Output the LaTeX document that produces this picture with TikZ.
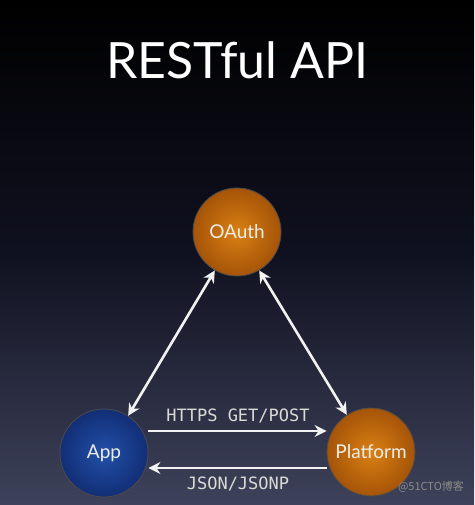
\documentclass[tikz,border=0pt]{standalone}
\usepackage{fontspec}
\setmainfont{Lato}
\setmonofont{DejaVu Sans Mono}
\newfontfamily\cjkfont{Noto Sans CJK SC}
\usetikzlibrary{arrows.meta}
\definecolor{bgtop}{RGB}{0,0,0}
\definecolor{bgmid}{RGB}{16,17,32}
\definecolor{bgbot}{RGB}{62,66,90}
\definecolor{orin}{RGB}{218,128,20}
\definecolor{orout}{RGB}{165,84,8}
\definecolor{blin}{RGB}{34,80,168}
\definecolor{blout}{RGB}{18,46,118}
\definecolor{txt}{RGB}{238,238,232}
\tikzset{
  ball/.style={circle, minimum size=88pt, inner sep=0pt, draw=black!70, line width=0.8pt, text=txt, font=\fontsize{19}{22}\selectfont},
  orangeball/.style={ball, inner color=orin, outer color=orout},
  blueball/.style={ball, inner color=blin, outer color=blout},
  link/.style={draw=white!95!black, line width=2.6pt, -{Stealth[length=12pt,width=12pt]}},
  biglink/.style={draw=white!95!black, line width=2.6pt, {Stealth[length=12pt,width=12pt]}-{Stealth[length=12pt,width=12pt]}},
  lbl/.style={text=txt!92!black, font=\ttfamily\fontsize{17}{20}\selectfont, inner sep=0pt}
}
\begin{document}
\begin{tikzpicture}[x=1pt,y=-1pt]
\shade[top color=bgtop, bottom color=bgbot, middle color=bgmid] (0,0) rectangle (474,505);
\useasboundingbox (0,0) rectangle (474,505);
\node[text=white, font=\fontsize{50}{56}\selectfont, inner sep=0pt] (title) at (237,60) {RESTful API};
\node[orangeball] (oauth) at (237,232) {OAuth};
\node[blueball] (app) at (104,453) {App};
\node[orangeball] (plat) at (371,452) {Platform};
\draw[biglink] (oauth.240) -- (app.57);
\draw[biglink] (oauth.300) -- (plat.123);
\draw[link] ([yshift=22pt]app.east) -- ([yshift=22pt]app.east -| plat.west);
\draw[link] ([yshift=-16pt]plat.west) -- ([yshift=-16pt]plat.west -| app.east);
\node[lbl] (req) at (238,416) {HTTPS GET/POST};
\node[lbl] (resp) at (238,484) {JSON/JSONP};
\node[text=white!55!black, font=\cjkfont\fontsize{11}{13}\selectfont, inner sep=0pt] (wm) at (431,487) {@51CTO博客};
\end{tikzpicture}
\end{document}
